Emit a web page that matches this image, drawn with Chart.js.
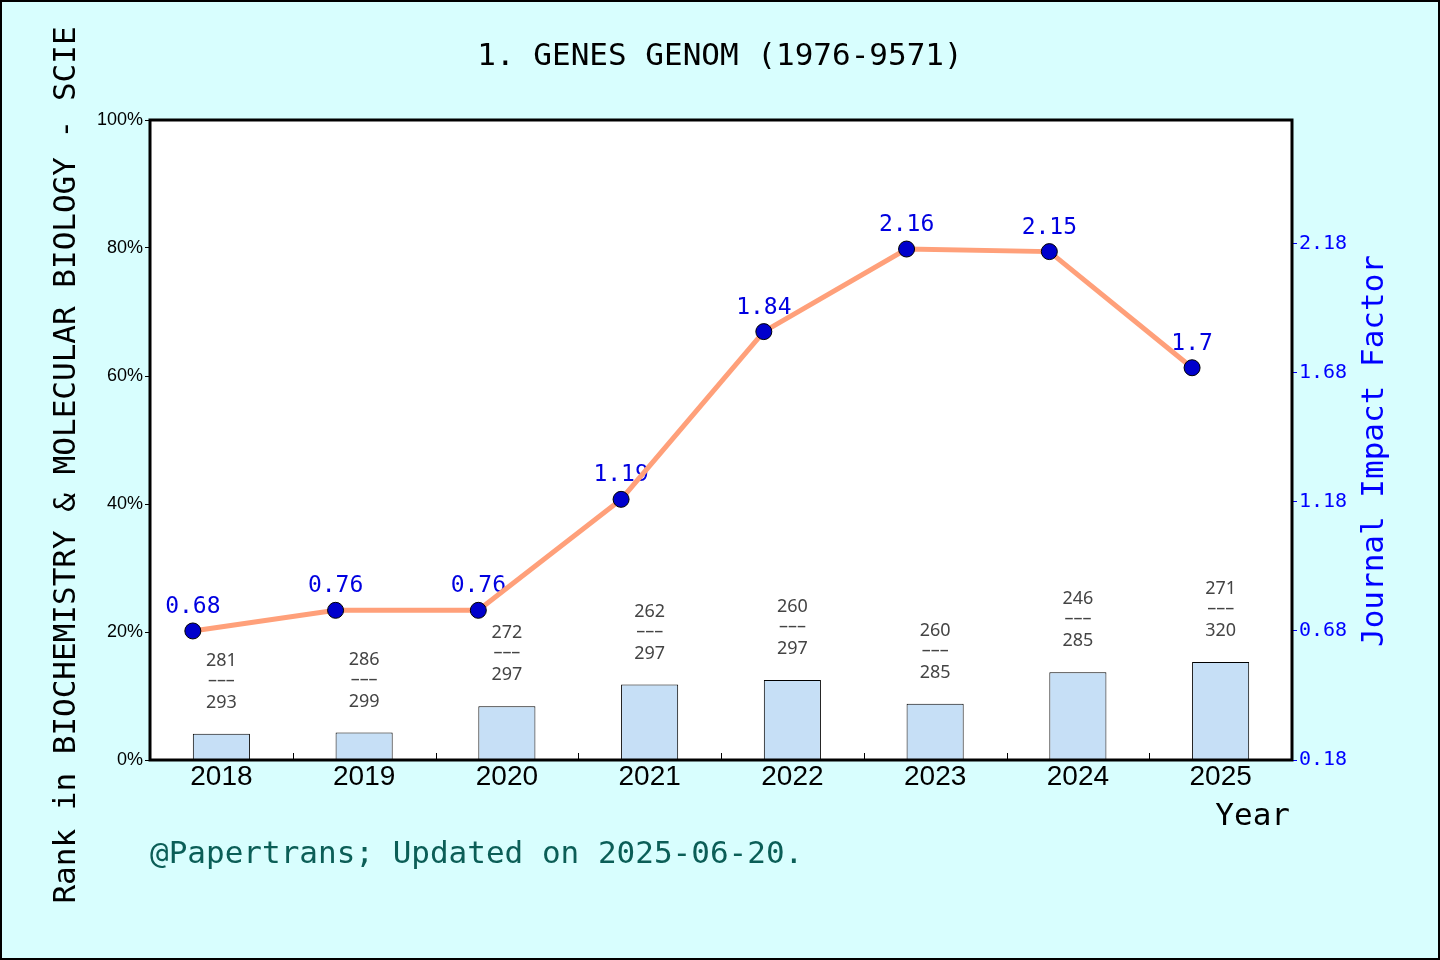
<!DOCTYPE html>
<html>
<head>
<meta charset="utf-8">
<script src="https://cdn.jsdelivr.net/npm/chart.js@4/dist/chart.umd.min.js"></script>
<style>
  html, body { margin: 0; padding: 0; background: #d8fefe; }
  canvas { display: block; }
</style>
</head>
<body>
<canvas id="c" width="1440" height="960"></canvas>
<script>
// ---- data ----
const YEARS = ['2018', '2019', '2020', '2021', '2022', '2023', '2024', '2025'];
const IF_VALUES = [0.68, 0.76, 0.76, 1.19, 1.84, 2.16, 2.15, 1.7];
const RANKS = [281, 286, 272, 262, 260, 260, 246, 271];
const TOTALS = [293, 299, 297, 297, 297, 285, 285, 320];
const RANK_PCT = [4.1, 4.3, 8.4, 11.8, 12.5, 8.8, 13.7, 15.3];
const LEFT_TICKS = [0, 20, 40, 60, 80, 100];
const IF_TICKS = [0.18, 0.68, 1.18, 1.68, 2.18];

const TITLE = '1. GENES GENOM (1976-9571)';
const LEFT_TITLE = 'Rank in BIOCHEMISTRY & MOLECULAR BIOLOGY - SCIE';
const RIGHT_TITLE = 'Journal Impact Factor';
const X_TITLE = 'Year';
const FOOTER = '@Papertrans; Updated on 2025-06-20.';

// ---- styles ----
const MONO = "'DejaVu Sans Mono', 'Liberation Mono', monospace";
const LINE_SHIFT = 0.2;

const decorPlugin = {
  id: 'decor',
  beforeDraw(chart) {
    const ctx = chart.ctx, a = chart.chartArea;
    ctx.save();
    ctx.fillStyle = '#d8fefe';
    ctx.fillRect(0, 0, chart.width, chart.height);
    ctx.strokeStyle = '#000';
    ctx.lineWidth = 2;
    ctx.strokeRect(1, 1, chart.width - 2, chart.height - 2);
    ctx.fillStyle = '#ffffff';
    ctx.fillRect(a.left, a.top, a.right - a.left, a.bottom - a.top);
    ctx.restore();
  },
  beforeDatasetDraw(chart, args) {
    if (args.index !== 0) return;
    const ctx = chart.ctx;
    const meta = chart.getDatasetMeta(0);
    ctx.save();
    ctx.font = '23px ' + MONO;
    ctx.fillStyle = '#0000e0';
    ctx.textAlign = 'center';
    ctx.textBaseline = 'middle';
    meta.data.forEach((p, i) => {
      ctx.fillText(String(IF_VALUES[i]), p.x, p.y - 24);
    });
    ctx.restore();
  },
  afterDatasetsDraw(chart) {
    const ctx = chart.ctx, a = chart.chartArea;
    const barMeta = chart.getDatasetMeta(1);
    ctx.save();
    // fraction labels above bars
    ctx.font = "18px 'Noto Sans', 'DejaVu Sans', sans-serif";
    ctx.fillStyle = '#444444';
    ctx.textAlign = 'center';
    ctx.textBaseline = 'middle';
    barMeta.data.forEach((b, i) => {
      ctx.fillText(String(RANKS[i]), b.x, b.y - 73);
      ctx.fillText('\u2013\u2013\u2013', b.x, b.y - 53);
      ctx.fillText(String(TOTALS[i]), b.x, b.y - 31);
    });
    // inner tick marks on x axis at category boundaries
    const xs = chart.scales.x;
    const w = (a.right - a.left) / YEARS.length;
    ctx.strokeStyle = '#000';
    ctx.lineWidth = 1;
    for (let i = 1; i < YEARS.length; i++) {
      const x = Math.round(xs.getPixelForValue(i) - w / 2) + 0.5;
      ctx.beginPath();
      ctx.moveTo(x, a.bottom);
      ctx.lineTo(x, a.bottom - 7);
      ctx.stroke();
    }
    // plot frame
    ctx.lineWidth = 3;
    ctx.strokeRect(a.left, a.top, a.right - a.left, a.bottom - a.top);
    ctx.restore();
  },
  afterDraw(chart) {
    const ctx = chart.ctx, a = chart.chartArea;
    ctx.save();
    ctx.font = '31px ' + MONO;
    ctx.textBaseline = 'middle';
    ctx.fillStyle = '#000';
    ctx.textAlign = 'center';
    ctx.fillText(TITLE, chart.width / 2, 57);
    ctx.textAlign = 'right';
    ctx.fillText(X_TITLE, a.right - 2, 817);
    ctx.textAlign = 'left';
    ctx.fillStyle = '#0b5e57';
    ctx.fillText(FOOTER, a.left, 855);
    // left title
    ctx.save();
    ctx.translate(67, 465);
    ctx.rotate(-Math.PI / 2);
    ctx.textAlign = 'center';
    ctx.fillStyle = '#000';
    ctx.fillText(LEFT_TITLE, 0, 0);
    ctx.restore();
    // right title
    ctx.save();
    ctx.translate(1375, 451);
    ctx.rotate(-Math.PI / 2);
    ctx.textAlign = 'center';
    ctx.fillStyle = '#0000ff';
    ctx.fillText(RIGHT_TITLE, 0, 0);
    ctx.restore();
    ctx.restore();
  }
};

new Chart(document.getElementById('c'), {
  type: 'bar',
  data: {
    labels: YEARS,
    datasets: [
      {
        type: 'line',
        data: IF_VALUES.map((v, i) => ({ x: i - LINE_SHIFT, y: v })),
        xAxisID: 'x2',
        yAxisID: 'y2',
        borderColor: '#ffa07a',
        borderWidth: 5,
        pointRadius: 8,
        pointBackgroundColor: '#0000cc',
        pointBorderColor: '#000000',
        pointBorderWidth: 1,
        tension: 0,
        order: 0
      },
      {
        type: 'bar',
        data: RANK_PCT,
        xAxisID: 'x',
        yAxisID: 'y',
        backgroundColor: '#c6dff6',
        borderColor: '#000000',
        borderWidth: 1,
        barPercentage: 0.4,
        categoryPercentage: 1,
        grouped: false,
        order: 1
      }
    ]
  },
  options: {
    responsive: false,
    devicePixelRatio: 1,
    animation: false,
    layout: { padding: { top: 120, left: 0, right: 0, bottom: 0 } },
    plugins: { legend: { display: false }, tooltip: { enabled: false }, title: { display: false } },
    scales: {
      x: {
        type: 'category',
        position: 'bottom',
        offset: true,
        grid: { display: false, drawTicks: false },
        border: { display: false },
        ticks: { color: '#000', font: { family: "'Liberation Sans', Arial, sans-serif", size: 28 }, padding: 0, maxRotation: 0 },
        afterFit: s => { s.height = 200; }
      },
      x2: { type: 'linear', display: false, offset: false, grid: { offset: false }, min: -0.5, max: 7.5 },
      y: {
        position: 'left',
        min: 0,
        max: 100,
        afterBuildTicks: s => { s.ticks = LEFT_TICKS.map(v => ({ value: v })); },
        ticks: { callback: v => v + '%', color: '#000', font: { family: "'Liberation Sans', Arial, sans-serif", size: 18 }, padding: 2 },
        grid: { drawOnChartArea: false, tickLength: 5, color: '#000', lineWidth: 1 },
        border: { display: false },
        afterFit: s => { s.width = 150; }
      },
      y2: {
        position: 'right',
        min: 0.18,
        max: 2.66,
        afterBuildTicks: s => { s.ticks = IF_TICKS.map(v => ({ value: v })); },
        ticks: { callback: v => Number(v).toFixed(2), color: '#0000ff', font: { family: MONO, size: 20 }, padding: 2 },
        grid: { drawOnChartArea: false, tickLength: 5, color: '#0000ff', lineWidth: 1 },
        border: { display: false },
        afterFit: s => { s.width = 148; }
      }
    }
  },
  plugins: [decorPlugin]
});
</script>
</body>
</html>
